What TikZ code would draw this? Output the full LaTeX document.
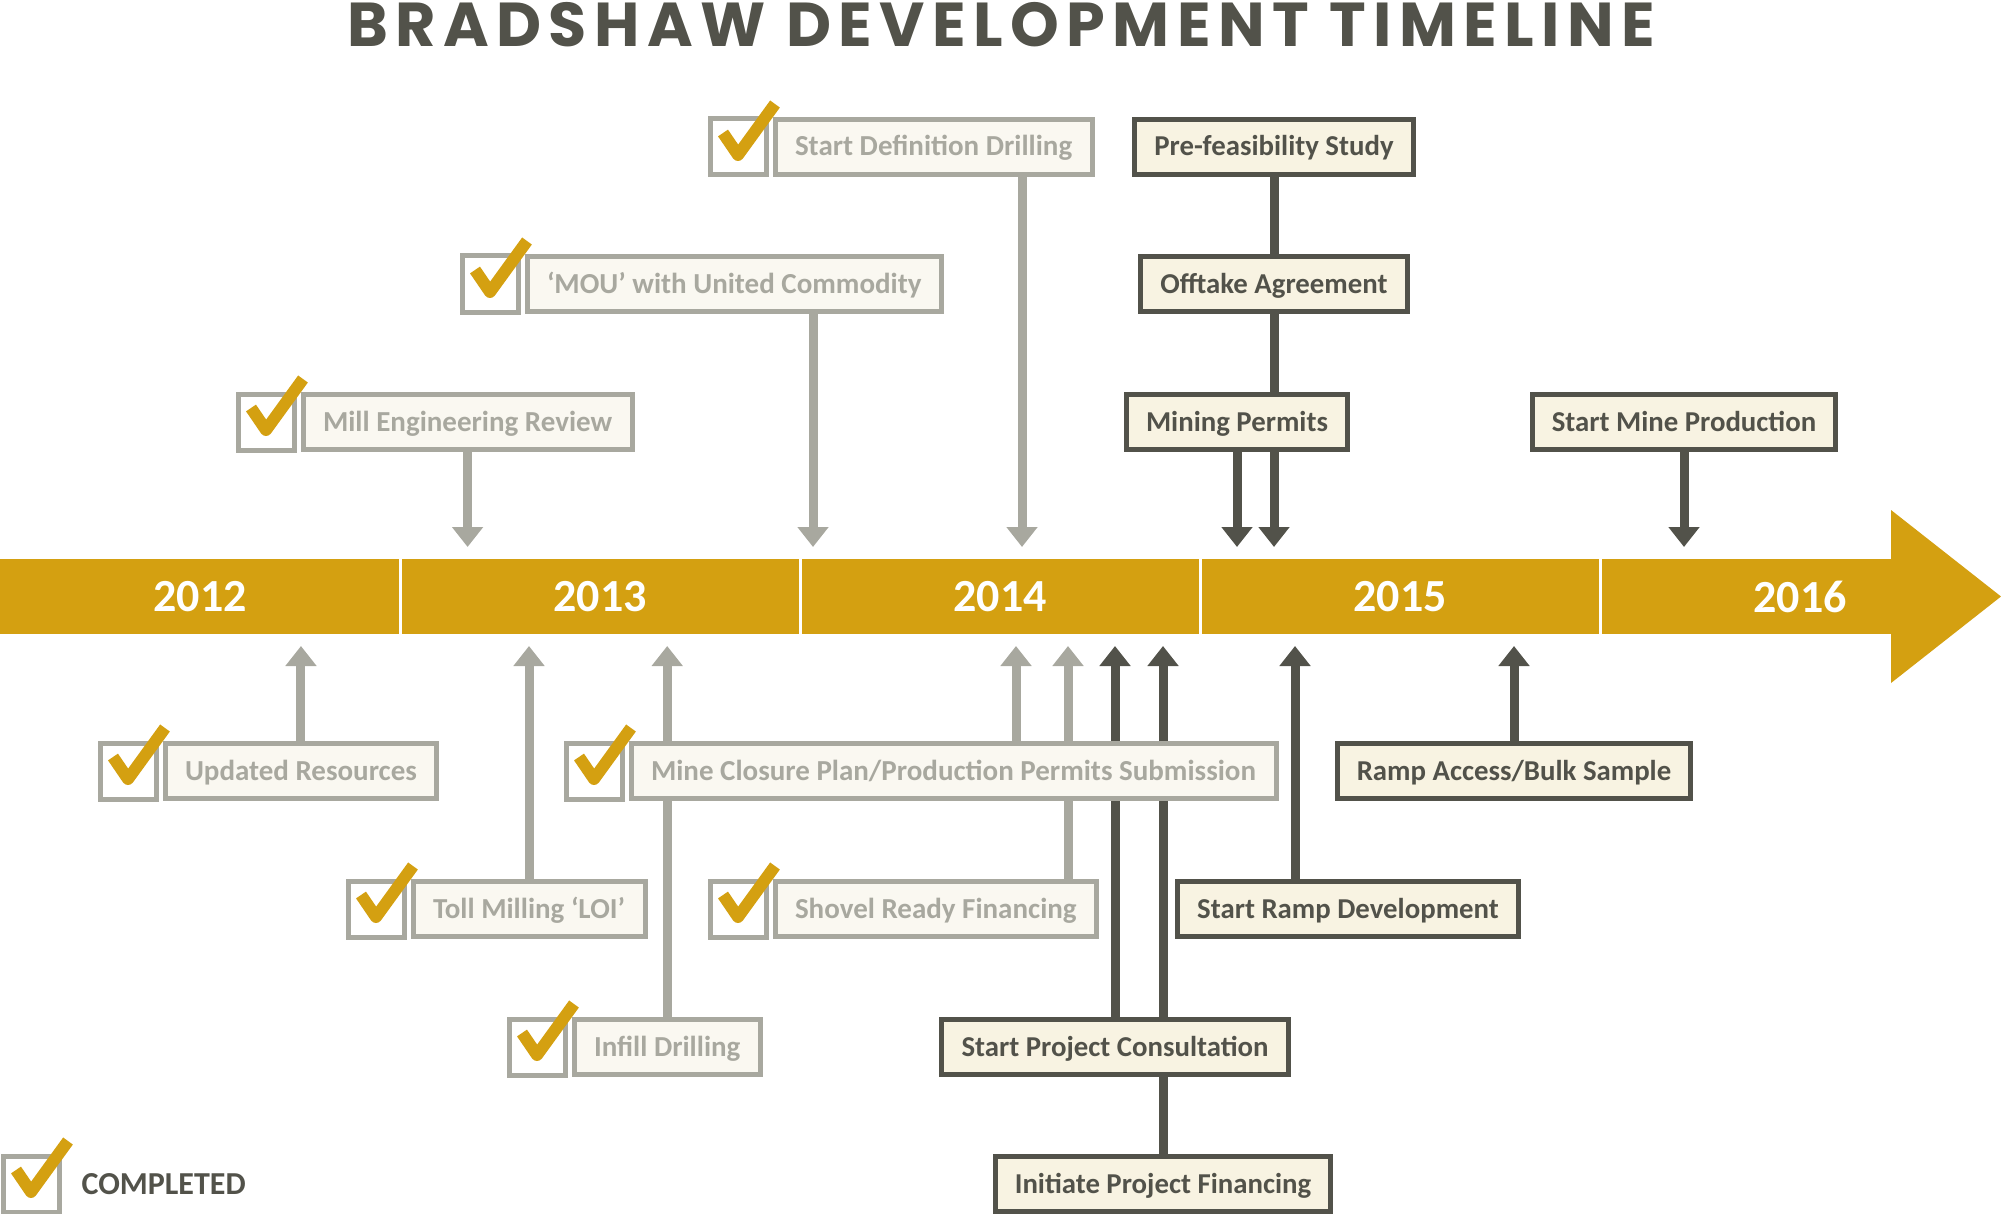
\documentclass[tikz,border=0pt]{standalone}
\usepackage{fontspec}
\setmainfont{Carlito}
\newfontfamily\titlefont[LetterSpace=12]{Poppins}
\usetikzlibrary{positioning}
\usetikzlibrary{calc}
\usetikzlibrary{arrows.meta}
\usetikzlibrary{backgrounds}
\definecolor{bargold}{HTML}{D4A011}
\definecolor{darkgray}{HTML}{52524A}
\definecolor{lightgray}{HTML}{A8A89F}
\definecolor{donefill}{HTML}{FAF8F1}
\definecolor{todofill}{HTML}{F8F3E2}

\begin{document}
\begin{tikzpicture}[x=0.5pt, y=-0.5pt,
	donenode/.style={rectangle, draw=lightgray, fill=donefill, line width=2.5pt, minimum height=27.5pt, inner xsep=10pt, text height=12pt, text depth=3pt, text=lightgray, font=\bfseries\fontsize{14.5}{16}\selectfont},
	todonode/.style={rectangle, draw=darkgray, fill=todofill, line width=2.5pt, minimum height=27.5pt, inner xsep=9.8pt, text height=12pt, text depth=3pt, text=darkgray, font=\bfseries\fontsize{14.4}{16}\selectfont},
	chknode/.style={rectangle, draw=lightgray, fill=white, line width=2.5pt, minimum size=28pt, inner sep=0pt},
	yearnode/.style={text=white, font=\bfseries\fontsize{23}{24}\selectfont},
	tick/.style={draw=bargold, line width=6pt, line join=round},
	garr/.style={draw=lightgray, line width=4.5pt, -{Triangle[width=15pt,length=10pt]}, shorten >=6pt},
	darr/.style={draw=darkgray, line width=4.5pt, -{Triangle[width=15pt,length=10pt]}, shorten >=6pt},
	dline/.style={draw=darkgray, line width=4.5pt},
	node distance=2pt]
	\useasboundingbox (0,0) rectangle (2001,1214);
	\node[text=darkgray, font=\titlefont\bfseries\fontsize{31}{34}\selectfont] (title) at (1001,24.5) {BRADSHAW DEVELOPMENT TIMELINE};

	\node[fill=bargold, minimum width=946pt, minimum height=37.5pt, inner sep=0pt, outer sep=0pt, anchor=west] (bar) at (0,596.5) {};
	\fill[bargold] (1891,510) -- (2001,596.5) -- (1891,683) -- cycle;
	\foreach \x in {400,800,1200,1600}
		\draw[white, line width=1.5pt] (\x,559) -- (\x,634);
	\node[yearnode] (y2012) at (200,596.5) {2012};
	\node[yearnode] (y2013) at (600,596.5) {2013};
	\node[yearnode] (y2014) at (1000,596.5) {2014};
	\node[yearnode] (y2015) at (1400,596.5) {2015};
	\node[yearnode] (y2016) at (1800,596.5) {2016};

	\node[chknode] (drillchk) at (738,147) {};
	\node[donenode] (drill) [right=of drillchk] {Start Definition Drilling};
	\node[chknode] (mouchk) at (490,284) {};
	\node[donenode] (mou) [right=of mouchk] {‘MOU’ with United Commodity};
	\node[chknode] (millchk) at (266,422) {};
	\node[donenode] (mill) [right=of millchk] {Mill Engineering Review};
	\node[todonode] (prefeas) at (1274,147) {Pre-feasibility Study};
	\node[todonode] (offtake) at (1274,284) {Offtake Agreement};
	\node[todonode] (permits) at (1237,422) {Mining Permits};
	\node[todonode] (production) at (1684,422) {Start Mine Production};

	\node[chknode] (reschk) at (128,771) {};
	\node[donenode] (resources) [right=of reschk] {Updated Resources};
	\node[chknode] (tollchk) at (376,909) {};
	\node[donenode] (toll) [right=of tollchk] {Toll Milling ‘LOI’};
	\node[chknode] (infillchk) at (537,1047) {};
	\node[donenode] (infill) [right=of infillchk] {Infill Drilling};
	\node[chknode] (closurechk) at (594,771) {};
	\node[donenode] (closure) [right=of closurechk] {Mine Closure Plan/Production Permits Submission};
	\node[chknode] (shovelchk) at (738,909) {};
	\node[donenode] (shovel) [right=of shovelchk] {Shovel Ready Financing};
	\node[todonode] (consult) at (1115,1047) {Start Project Consultation};
	\node[todonode] (financing) at (1163,1184) {Initiate Project Financing};
	\node[todonode] (rampdev) at (1348,909) {Start Ramp Development};
	\node[todonode] (rampaccess) at (1514,771) {Ramp Access/Bulk Sample};

	\node[chknode] (legendchk) at (31,1184) {};
	\node[text=darkgray, font=\bfseries\fontsize{16}{18}\selectfont] (legend) [right=6.5pt of legendchk] {COMPLETED};

	\coordinate (tdrill) at (1022,596.5);
	\coordinate (tmou) at (813,596.5);
	\coordinate (tclosure) at (1016,596.5);
	\coordinate (tshovel) at (1068,596.5);
	\coordinate (tramp) at (1295,596.5);

	\foreach \c in {drillchk,mouchk,millchk,reschk,tollchk,infillchk,closurechk,shovelchk,legendchk}
		\draw[tick] ($(\c)+(-15,-14)$) -- ($(\c)+(0,8)$) -- ($(\c)+(37,-43)$);

	\begin{scope}[on background layer]
		\draw[garr] (drill.south -| tdrill) -- (tdrill |- bar.north);
		\draw[garr] (mou.south -| tmou) -- (tmou |- bar.north);
		\draw[garr] (mill.south) -- (mill.south |- bar.north);
		\draw[dline] (prefeas) -- (offtake);
		\draw[darr] (offtake.south) -- (offtake.south |- bar.north);
		\draw[darr] (permits.south) -- (permits.south |- bar.north);
		\draw[darr] (production.south) -- (production.south |- bar.north);
		\draw[garr] (resources.north) -- (resources.north |- bar.south);
		\draw[garr] (toll.north) -- (toll.north |- bar.south);
		\draw[garr] (infill.north) -- (infill.north |- bar.south);
		\draw[garr] (closure.north -| tclosure) -- (tclosure |- bar.south);
		\draw[garr] (shovel.north -| tshovel) -- (tshovel |- bar.south);
		\draw[darr] (consult.north) -- (consult.north |- bar.south);
		\draw[darr] (financing.north) -- (financing.north |- bar.south);
		\draw[darr] (rampdev.north -| tramp) -- (tramp |- bar.south);
		\draw[darr] (rampaccess.north) -- (rampaccess.north |- bar.south);
	\end{scope}
\end{tikzpicture}
\end{document}
